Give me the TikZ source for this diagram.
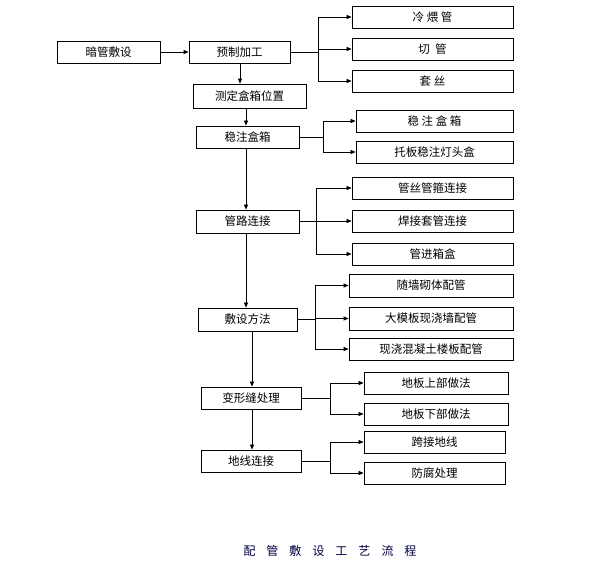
\documentclass[tikz,border=0pt]{standalone}
\usepackage{fontspec}
\newfontfamily\cjk{Noto Sans CJK SC}
\usetikzlibrary{arrows.meta}
\begin{document}
\begin{tikzpicture}[x=1pt,y=-1pt,
  box/.style={draw,line width=0.8pt,inner sep=0pt,font=\cjk\fontsize{11.5}{13}\selectfont},
  arr/.style={-{Triangle[length=5pt,width=4pt]},line width=0.7pt},
  ln/.style={line width=0.7pt}]
\useasboundingbox (0,0) rectangle (611,586);
\newcommand\bx[6]{\node[box,minimum width=#4-#2,minimum height=#5-#3] (#1) at ({(#2+#4)/2},{(#3+#5)/2}) {#6};}
\bx{a}{57}{41}{160}{63}{暗管敷设}
\bx{b}{189}{41}{290}{63}{预制加工}
\bx{b1}{352}{6}{513}{28}{冷\ 煨\ 管}
\bx{b2}{352}{38}{513}{60}{切\ \ 管}
\bx{b3}{352}{70}{513}{92}{套\ 丝}
\bx{c}{193}{84}{306}{108}{测定盒箱位置}
\bx{d}{196}{126}{299}{148}{稳注盒箱}
\bx{d1}{356}{110}{513}{132}{稳\ 注\ 盒\ 箱}
\bx{d2}{356}{141}{513}{163}{托板稳注灯头盒}
\bx{e}{196}{210}{299}{233}{管路连接}
\bx{e1}{352}{177}{513}{199}{管丝管箍连接}
\bx{e2}{352}{210}{513}{232}{焊接套管连接}
\bx{e3}{352}{243}{513}{265}{管进箱盒}
\bx{f}{198}{308}{297}{331}{敷设方法}
\bx{f1}{349}{274}{513}{297}{随墙砌体配管}
\bx{f2}{349}{307}{513}{330}{大模板现浇墙配管}
\bx{f3}{349}{338}{513}{360}{现浇混凝土楼板配管}
\bx{g}{201}{387}{301}{409}{变形缝处理}
\bx{g1}{364}{372}{508}{394}{地板上部做法}
\bx{g2}{364}{403}{508}{425}{地板下部做法}
\bx{h}{201}{450}{301}{472}{地线连接}
\bx{h1}{364}{431}{505}{453}{跨接地线}
\bx{h2}{364}{462}{505}{484}{防腐处理}
\node[font=\cjk\fontsize{12}{14}\selectfont,text=black!75!blue] (cap) at (330,551) {配\hspace{11pt}管\hspace{11pt}敷\hspace{11pt}设\hspace{11pt}工\hspace{11pt}艺\hspace{11pt}流\hspace{11pt}程};
% main chain
\draw[arr] (a) -- (b);
\draw[arr] (b.south -| 240,0) -- (c.north -| 240,0);
\draw[arr] (c.south -| 246,0) -- (d.north -| 246,0);
\draw[arr] (d.south -| 246,0) -- (e.north -| 246,0);
\draw[arr] (e.south -| 246,0) -- (f.north -| 246,0);
\draw[arr] (f.south -| 252,0) -- (g.north -| 252,0);
\draw[arr] (g.south -| 252,0) -- (h.north -| 252,0);
% branches
\newcommand\br[5]{%
 \coordinate (t) at (#2,0);
 \draw[ln] (#1.east) -- (#1.east -| t);
 \draw[ln] (#3.west -| t) -- (#4.west -| t);
 \foreach \k in {#5} {\draw[arr] (\k.west -| t) -- (\k.west);}}
\br{b}{318}{b1}{b3}{b1,b2,b3}
\br{d}{323}{d1}{d2}{d1,d2}
\br{e}{316}{e1}{e3}{e1,e2,e3}
\br{f}{315}{f1}{f3}{f1,f2,f3}
\br{g}{330}{g1}{g2}{g1,g2}
\br{h}{330}{h1}{h2}{h1,h2}
\end{tikzpicture}
\end{document}
